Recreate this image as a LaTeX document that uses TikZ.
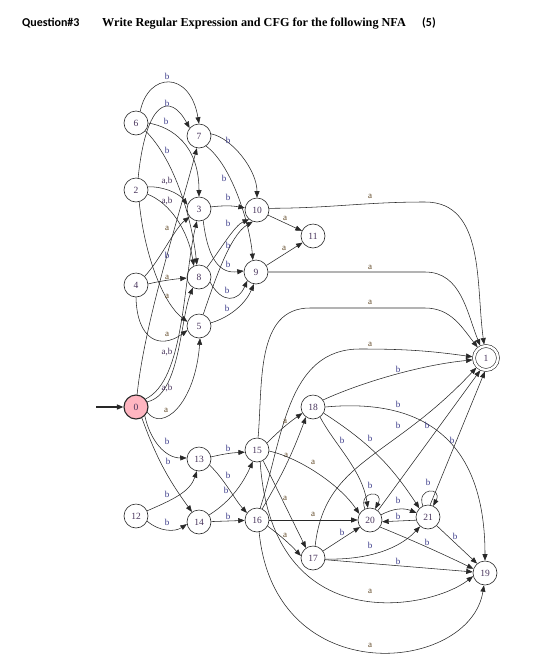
\documentclass[tikz,border=0pt]{standalone}
\usepackage{fontspec}
\setmainfont{Liberation Serif}
\newfontfamily\qfont{Carlito}
\usetikzlibrary{arrows.meta}
\definecolor{ink}{RGB}{40,40,40}
\definecolor{rose}{RGB}{255,182,193}
\definecolor{alab}{RGB}{95,70,35}
\definecolor{blab}{RGB}{55,55,135}
\definecolor{nlab}{RGB}{70,50,90}

\begin{document}
\begin{tikzpicture}[
  x=1pt, y=1pt,
  st/.style={circle, draw=ink, line width=0.6pt, minimum size=24pt,
             inner sep=0pt, text=nlab, font=\fontsize{9.5}{10}\selectfont},
  acc/.style={st, double, double distance=2.4pt, outer sep=1.6pt},
  ini/.style={st, fill=rose, line width=1.1pt},
  tr/.style={draw=ink, line width=0.55pt, -{Triangle[length=6.5pt,width=5pt]}},
  lbl/.style={font=\fontsize{9}{10}\selectfont, inner sep=0.5pt},
  la/.style={lbl, text=alab},
  lb/.style={lbl, text=blab},
  lab/.style={lbl, text=nlab},
  hd/.style={anchor=base west, inner sep=0pt, text=black}]
  \useasboundingbox (0,0) rectangle (552,-665);
  \node[hd, font=\qfont\bfseries\fontsize{12}{14}\selectfont] (qnum) at (22,-26.5) {Question\#3};
  \node[hd, font=\bfseries\fontsize{12.2}{14}\selectfont] (qtxt) at (102,-26.5) {Write Regular Expression and CFG for the following NFA};
  \node[hd, font=\qfont\bfseries\fontsize{12}{14}\selectfont] (qpts) at (422,-26.5) {(5)};

  \node[st] (n6) at (136,-123) {6};
  \node[st] (n7) at (199,-136) {7};
  \node[st] (n2) at (136,-190) {2};
  \node[st] (n3) at (199,-209) {3};
  \node[st] (n10) at (257,-210) {10};
  \node[st] (n11) at (313,-236) {11};
  \node[st] (n4) at (136,-285) {4};
  \node[st] (n8) at (199,-277) {8};
  \node[st] (n9) at (256,-272) {9};
  \node[st] (n5) at (199,-326) {5};
  \node[acc] (n1) at (486,-358) {1};
  \node[ini] (n0) at (136,-407) {0};
  \node[st] (n18) at (313,-407) {18};
  \node[st] (n13) at (199,-459) {13};
  \node[st] (n15) at (257,-450) {15};
  \node[st] (n12) at (136,-516) {12};
  \node[st] (n14) at (199,-522) {14};
  \node[st] (n16) at (257,-520) {16};
  \node[st] (n20) at (370,-520) {20};
  \node[st] (n21) at (428,-517) {21};
  \node[st] (n17) at (313,-558) {17};
  \node[st] (n19) at (485,-573) {19};

  \coordinate (s0) at (96,-407);
  \draw[tr, line width=1.3pt] (s0) -- (n0);

  \draw[tr] (n6.70) .. controls (148,-72) and (190,-70) .. (n7.north) node[lb] at (167,-76) {b};
  \draw[tr] (n2.80) .. controls (146,-100) and (170,-92) .. (n7.140) node[lb] at (167,-103) {b};
  \draw[tr] (n6.east) .. controls (172,-127) and (199,-145) .. (n3.north) node[lb] at (166,-121) {b};
  \draw[tr] (n6.-40) .. controls (175,-160) and (192,-220) .. (n8.100) node[lb] at (167,-150) {b};
  \draw[tr] (n2.15) .. controls (160,-186) and (178,-192) .. (n3.160) node[lab] at (167,-181) {a,b};
  \draw[tr] (n2.-20) .. controls (170,-203) and (188,-230) .. (n8.115) node[lab] at (167,-201) {a,b};
  \draw[tr] (n4.45) .. controls (160,-260) and (175,-228) .. (n3.220) node[la] at (167,-228) {a};
  \draw[tr] (n0.85) .. controls (145,-320) and (178,-220) .. (n7.-100) node[lb] at (167,-255) {b};
  \draw[tr] (n4.5) .. controls (160,-281) and (175,-279) .. (n8.185) node[la] at (167,-277) {a};
  \draw[tr] (n2.-75) .. controls (145,-260) and (165,-305) .. (n5.160) node[la] at (167,-296) {a};
  \draw[tr] (n4.-90) .. controls (137,-340) and (160,-350) .. (n5.200) node[la] at (167,-334) {a};
  \draw[tr] (n0.40) .. controls (185,-380) and (183,-280) .. (n3.-100) node[lab] at (167,-352) {a,b};
  \draw[tr] (n0.25) .. controls (180,-395) and (180,-320) .. (n8.-120) node[lab] at (167,-388) {a,b};
  \draw[tr] (n0.-25) .. controls (162,-432) and (195,-405) .. (n5.-85) node[la] at (166,-410) {a};

  \draw[tr] (n7.10) .. controls (232,-138) and (257,-170) .. (n10.north) node[lb] at (228,-140) {b};
  \draw[tr] (n7.-55) .. controls (232,-165) and (250,-225) .. (n9.105) node[lb] at (224,-178) {b};
  \draw[tr] (n3.10) to[bend left=8] (n10.170) node[lb] at (228,-197) {b};
  \draw[tr] (n8.50) .. controls (220,-250) and (235,-225) .. (n10.-130) node[lb] at (228,-223) {b};
  \draw[tr] (n5.70) .. controls (215,-280) and (230,-235) .. (n10.-110) node[lb] at (228,-245) {b};
  \draw[tr] (n3.-70) .. controls (208,-260) and (220,-274) .. (n9.175) node[lb] at (228,-264) {b};
  \draw[tr] (n8.-25) .. controls (222,-304) and (238,-302) .. (n9.-135) node[lb] at (227,-290) {b};
  \draw[tr] (n5.15) .. controls (228,-318) and (245,-305) .. (n9.-100) node[lb] at (227,-308) {b};

  \draw[tr] (n10) -- (n11) node[la] at (285,-218) {a};
  \draw[tr] (n9) -- (n11) node[la] at (284,-248) {a};
  \draw[tr] (n10.8) to[out=0,in=180] (425,-202) to[out=0,in=98] (n1.98) node[la] at (370,-196) {a};
  \draw[tr] (n9.east) -- (425,-272) to[out=0,in=112] (n1.115) node[la] at (370,-267) {a};
  \draw[tr] (n15.85) to[out=85,in=180] (310,-308) -- (425,-308) to[out=0,in=128] (n1.128) node[la] at (370,-302) {a};
  \draw[tr] (n16.75) to[out=72,in=180] (360,-349) to[out=0,in=172] (n1.175) node[la] at (370,-344) {a};

  \draw[tr] (n15.35) to[bend left=5] (n18.210) node[la] at (285,-421) {a};
  \draw[tr] (n16.65) to[bend right=5] (n18.235) node[la] at (286,-455) {a};
  \draw[tr] (n15.-5) .. controls (300,-458) and (340,-485) .. (n20.150) node[la] at (313,-462) {a};
  \draw[tr] (n15.-60) -- (n17.125) node[la] at (285,-498) {a};
  \draw[tr] (n16.-30) to[bend left=5] (n17.170) node[la] at (285,-535) {a};
  \draw[tr] (n16) -- (n20) node[la] at (313,-514) {a};
  \draw[tr] (n15.-75) .. controls (272,-640) and (430,-610) .. (n19.195) node[la] at (370,-591) {a};
  \draw[tr] (n16.-80) .. controls (275,-693) and (470,-673) .. (n19.-95) node[la] at (370,-645) {a};

  \draw[tr] (n18.35) .. controls (360,-383) and (420,-365) .. (n1.188) node[lb] at (398,-369) {b};
  \draw[tr] (n18.east) .. controls (400,-400) and (485,-420) .. (n19.north) node[lb] at (398,-404) {b};
  \draw[tr] (n18.-55) .. controls (335,-445) and (362,-470) .. (n20.100) node[lb] at (342,-440) {b};
  \draw[tr] (n18.-30) to[bend left=12] (n21.135) node[lb] at (370,-438) {b};
  \draw[tr] (n17.80) .. controls (325,-460) and (390,-460) .. (n1.-135) node[lb] at (398,-425) {b};
  \draw[tr] (n20.50) -- (n1.-115) node[lb] at (427,-425) {b};
  \draw[tr] (n21.80) -- (n1.-95) node[lb] at (452,-440) {b};
  \draw[tr] (n20.115) .. controls (358,-490) and (385,-490) .. (n20.65) node[lb] at (370,-485) {b};
  \draw[tr] (n21.115) .. controls (416,-487) and (443,-487) .. (n21.65) node[lb] at (428,-482) {b};
  \draw[tr] (n20.25) to[bend left=25] (n21.160) node[lb] at (398,-500) {b};
  \draw[tr] (n21.195) -- (n20.-8) node[lb] at (398,-516) {b};
  \draw[tr] (n17.35) -- (n20.215) node[lb] at (342,-532) {b};
  \draw[tr] (n17.-5) .. controls (370,-560) and (400,-548) .. (n21.-130) node[lb] at (370,-545) {b};
  \draw[tr] (n17.-8) -- (n19.175) node[lb] at (398,-561) {b};
  \draw[tr] (n20.-35) .. controls (412,-540) and (445,-555) .. (n19.160) node[lb] at (427,-542) {b};
  \draw[tr] (n21.-45) -- (n19.130) node[lb] at (455,-536) {b};

  \draw[tr] (n0.-45) .. controls (150,-440) and (165,-458) .. (n13.175) node[lb] at (167,-441) {b};
  \draw[tr] (n0.-62) to[bend right=8] (n14.125) node[lb] at (168,-461) {b};
  \draw[tr] (n12.25) .. controls (172,-500) and (190,-492) .. (n13.-100) node[lb] at (167,-494) {b};
  \draw[tr] (n12.-25) .. controls (160,-532) and (175,-532) .. (n14.190) node[lb] at (167,-522) {b};
  \draw[tr] (n13.10) to[bend left=5] (n15.190) node[lb] at (228,-448) {b};
  \draw[tr] (n13.-30) .. controls (225,-480) and (235,-500) .. (n16.145) node[lb] at (228,-475) {b};
  \draw[tr] (n14.35) .. controls (225,-505) and (240,-490) .. (n15.-110) node[lb] at (226,-490) {b};
  \draw[tr] (n14) -- (n16) node[lb] at (228,-516) {b};
\end{tikzpicture}
\end{document}
